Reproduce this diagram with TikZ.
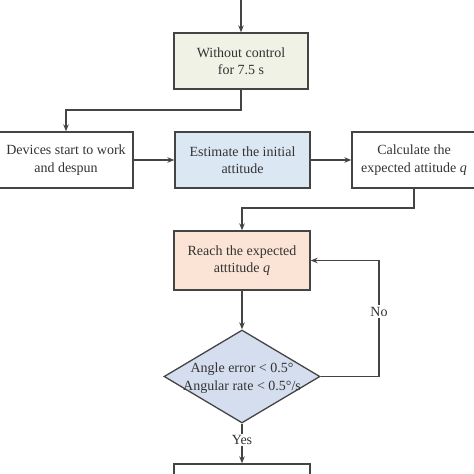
\documentclass[tikz,border=0pt]{standalone}
\usepackage{fontspec}
\setmainfont{Liberation Serif}
\usetikzlibrary{arrows.meta,shapes.geometric,calc}
\definecolor{edge}{HTML}{444444}
\definecolor{txt}{HTML}{333333}
\definecolor{greenfill}{HTML}{F0F2E6}
\definecolor{bluefill}{HTML}{DCE7F4}
\definecolor{peachfill}{HTML}{FBE4D5}
\definecolor{diafill}{HTML}{D5DEEE}
\tikzset{
  box/.style={draw=edge, line width=1.3pt, rectangle, minimum height=56pt, inner sep=2pt,
    align=center, text=txt, font=\fontsize{14}{17.5}\selectfont},
  arr/.style={draw=edge, line width=1.2pt, -{Stealth[length=7pt,width=5.5pt]}},
  ln/.style={draw=edge, line width=1.2pt},
  lbl/.style={fill=white, text=txt, inner sep=1.5pt, font=\fontsize{14}{17}\selectfont},
}
\begin{document}
\begin{tikzpicture}[x=1pt,y=-1pt]
\useasboundingbox (0,0) rectangle (474,474);
\clip (0,0) rectangle (474,474);
\node[box, fill=greenfill, minimum width=134pt] (b1) at (241,61) {Without control\\for 7.5 s};
\node[box, fill=white, minimum width=134pt] (b2) at (66,160) {Devices start to work\\and despun};
\node[box, fill=bluefill, minimum width=135pt] (b3) at (242.5,160) {Estimate the initial\\attitude};
\node[box, fill=white, minimum width=124pt] (b4) at (414,160) {Calculate the\\expected attitude \textit{q}};
\node[box, fill=peachfill, minimum width=136pt, minimum height=59pt] (b5) at (242,260.5) {Reach the expected\\atttitude \textit{q}};
\node[diamond, draw=edge, line width=1.3pt, fill=diafill, minimum width=156pt, minimum height=93pt, inner sep=0pt] (d) at (242,376.5) {};
\node[text=txt, align=center, font=\fontsize{14}{17.5}\selectfont] (dt) at (242,378) {Angle error < 0.5°\\Angular rate < 0.5°/s};
\node[box, fill=white, minimum width=136pt] (b6) at (242,492) {};
\coordinate (top) at (241,-2);
\draw[arr] (top) -- (b1.north);
\draw[arr] (b1.south) -- (241,110) -| (b2.north);
\draw[arr] (b2.east) -- (b3.west);
\draw[arr] (b3.east) -- (b4.west);
\draw[arr] (b4.south) -- (414,208) -| (b5.north);
\draw[arr] (b5.south) -- (d.north);
\draw[arr] (d.east) -- (379,376.5) |- (b5.east) node[pos=0.28, lbl] {No};
\draw[arr] (d.south) -- (b6.north) node[pos=0.42, lbl] {Yes};
\end{tikzpicture}
\end{document}
